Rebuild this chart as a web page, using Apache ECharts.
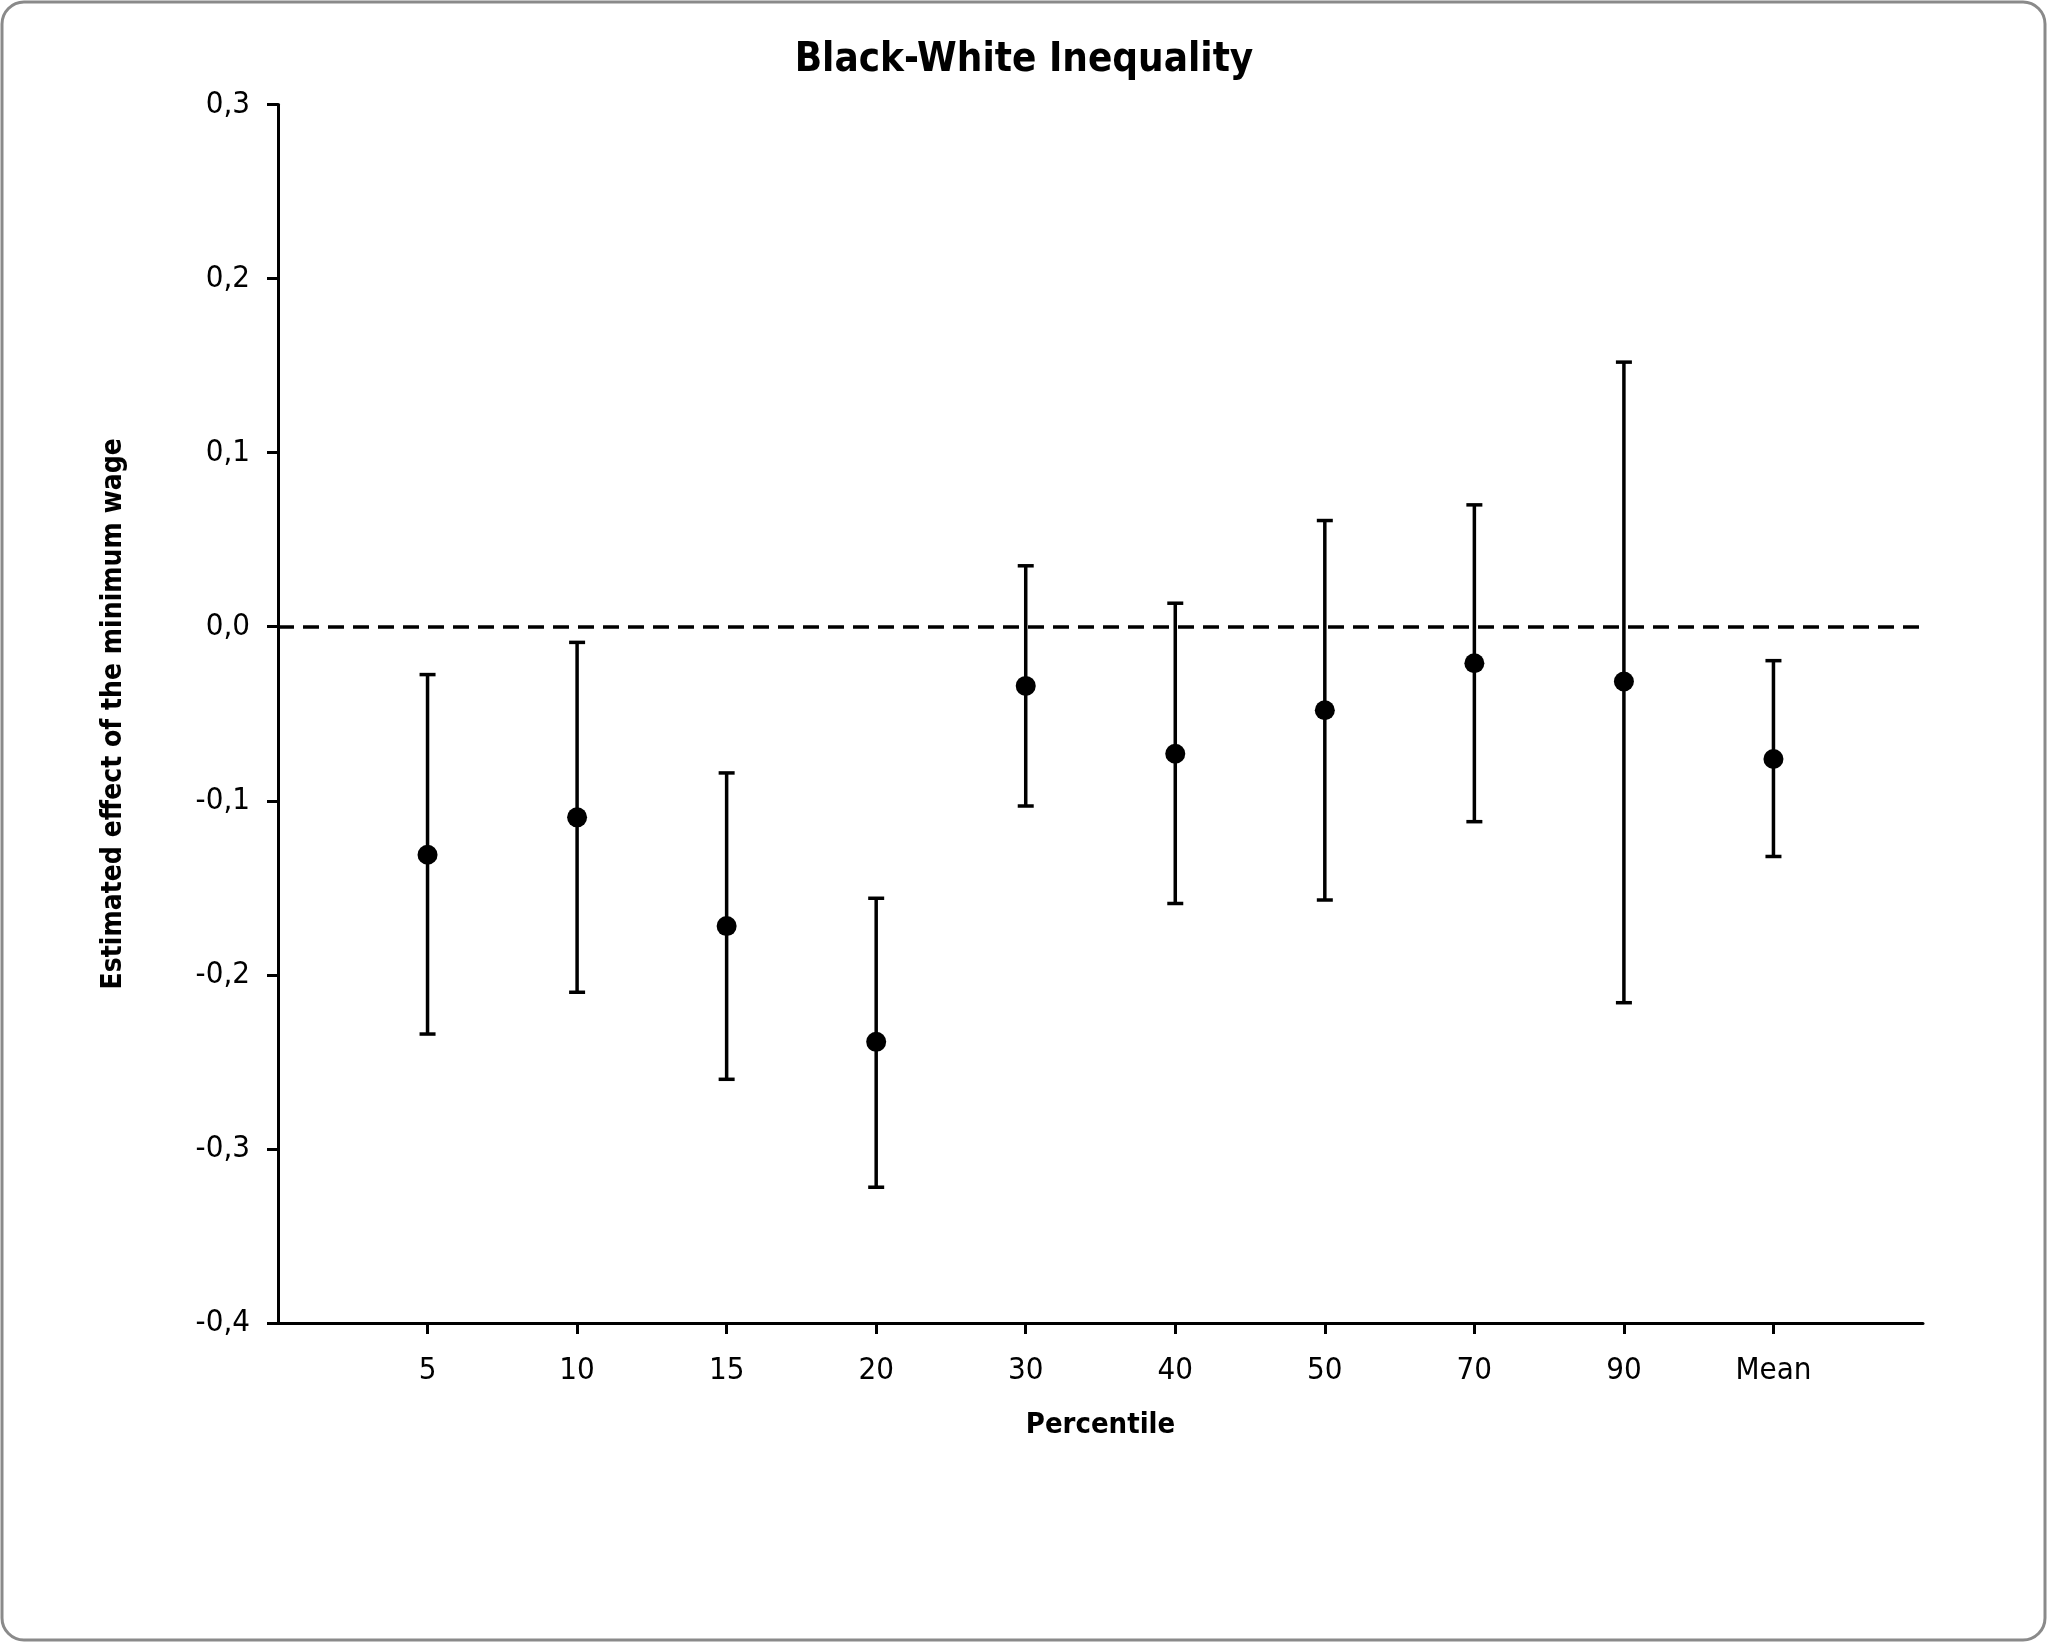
<!DOCTYPE html>
<html>
<head>
<meta charset="utf-8">
<script src="https://cdn.jsdelivr.net/npm/echarts@6/dist/echarts.min.js"></script>
<style>
  html, body { margin: 0; padding: 0; background: #fff; }
  #chart { width: 2048px; height: 1643px; }
</style>
</head>
<body>
<div id="chart"></div>
<script>
// percentile groups along the x axis
const categories = ['5', '10', '15', '20', '30', '40', '50', '70', '90', 'Mean'];
// point estimates and confidence bounds
const estimates = [-0.131, -0.1095, -0.172, -0.2385, -0.034, -0.073, -0.048, -0.021, -0.0315, -0.076];
const upperBounds = [-0.0275, -0.009, -0.084, -0.156, 0.035, 0.0135, 0.061, 0.070, 0.152, -0.0195];
const lowerBounds = [-0.234, -0.210, -0.260, -0.322, -0.103, -0.159, -0.157, -0.112, -0.216, -0.132];

const FONT = '"Liberation Sans Narrow", "DejaVu Sans Condensed", Roboto, sans-serif';

const myChart = echarts.init(document.getElementById('chart'));

// slots 1..N hold the categories, 0 and N+1 stay empty
const pointData = estimates.map((v, i) => [i + 1, v]);
const barData = estimates.map((v, i) => [i + 1, lowerBounds[i], upperBounds[i]]);

const option = {
  backgroundColor: '#fff',
  animation: false,
  title: {
    text: 'Black-White Inequality',
    left: 'center',
    top: 36,
    textStyle: { fontFamily: FONT, fontWeight: 'bold', fontSize: 40, color: '#000' },
  },
  graphic: [{
    type: 'rect',
    shape: { x: 2, y: 2, width: 2043, height: 1638, r: 22 },
    style: { fill: 'none', stroke: '#8a8a8a', lineWidth: 3 },
    silent: true,
  }],
  grid: { left: 278, right: 125, top: 104.5, bottom: 320 },
  xAxis: {
    type: 'value',
    min: 0,
    max: categories.length + 1,
    interval: 1,
    name: 'Percentile',
    nameLocation: 'middle',
    nameGap: 88,
    nameTextStyle: { fontFamily: FONT, fontWeight: 'bold', fontSize: 29, color: '#000' },
    axisLine: { onZero: false, lineStyle: { color: '#000', width: 3 } },
    axisTick: { show: true, length: 11, lineStyle: { color: '#000', width: 3 } },
    axisLabel: {
      margin: 32,
      fontFamily: FONT,
      fontSize: 31,
      color: '#000',
      showMinLabel: false,
      showMaxLabel: false,
      formatter: (v) => categories[v - 1] || '',
    },
    splitLine: { show: false },
  },
  yAxis: {
    type: 'value',
    min: -0.4,
    max: 0.3,
    interval: 0.1,
    name: 'Estimated effect of the minimum wage',
    nameLocation: 'middle',
    nameGap: 150,
    nameTextStyle: { fontFamily: FONT, fontWeight: 'bold', fontSize: 28, color: '#000' },
    axisLine: { show: true, onZero: false, lineStyle: { color: '#000', width: 3 } },
    axisTick: { show: true, length: 11, lineStyle: { color: '#000', width: 3 } },
    axisLabel: {
      margin: 28,
      fontFamily: FONT,
      fontSize: 31,
      color: '#000',
      formatter: (v) => v.toFixed(1).replace('.', ','),
    },
    splitLine: { show: false },
  },
  series: [
    {
      name: 'CI',
      type: 'custom',
      data: barData,
      renderItem: (params, api) => {
        const x = api.value(0);
        const lo = api.coord([x, api.value(1)]);
        const hi = api.coord([x, api.value(2)]);
        const half = 8;
        const style = { stroke: '#000', lineWidth: 3.5 };
        return {
          type: 'group',
          children: [
            { type: 'line', shape: { x1: hi[0], y1: hi[1], x2: lo[0], y2: lo[1] }, style },
            { type: 'line', shape: { x1: hi[0] - half, y1: hi[1], x2: hi[0] + half, y2: hi[1] }, style },
            { type: 'line', shape: { x1: lo[0] - half, y1: lo[1], x2: lo[0] + half, y2: lo[1] }, style },
          ],
        };
      },
      z: 2,
    },
    {
      name: 'Estimate',
      type: 'scatter',
      data: pointData,
      symbol: 'circle',
      symbolSize: 20,
      itemStyle: { color: '#000', opacity: 1 },
      z: 3,
      markLine: {
        silent: true,
        symbol: 'none',
        label: { show: false },
        lineStyle: { color: '#000', type: [16, 9], width: 3.5, opacity: 1 },
        data: [{ yAxis: 0 }],
      },
    },
  ],
};

myChart.setOption(option);
window.addEventListener('resize', () => {
  myChart.resize();
});
</script>
</body>
</html>
